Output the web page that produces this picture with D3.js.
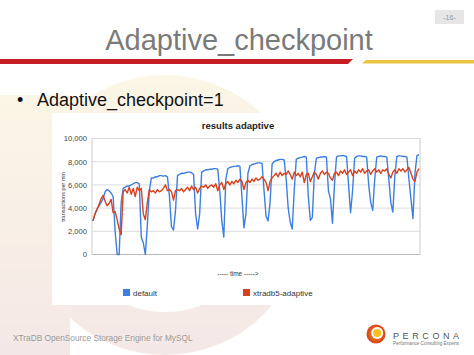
<!DOCTYPE html>
<html><head><meta charset="utf-8">
<script src="https://cdn.jsdelivr.net/npm/d3@7"></script>
<style>html,body{margin:0;padding:0;background:#fff;overflow:hidden}svg{display:block}</style>
</head><body>
<script>
// ---- data ----
const slideTitle = "Adaptive_checkpoint";
const bulletText = "Adaptive_checkpoint=1";
const chartTitle = "results adaptive";
const yAxisTitle = "transactions per min";
const xAxisTitle = "----- time ----->";
const seriesNames = ["default", "xtradb5-adaptive"];
const yTicks = [0, 2000, 4000, 6000, 8000, 10000];
const footerText = "XTraDB OpenSource Storage Engine for MySQL";
const pageLabel = "-16-";

const defaultSeries = [
2900,3500,3900,4200,4500,4800,5400,5600,5500,5300,5000,2000,0,0,4500,5700,5800,5900,5900,6000,
6100,6200,6200,6100,1500,1000,0,2500,5500,6600,6600,6700,6700,6800,6800,6750,6800,6700,5000,2400,
2100,3800,6800,6900,7000,7000,7050,7100,7100,7050,6900,3500,2200,3500,7100,7200,7300,7300,7350,7350,
7400,7400,7350,5500,2900,1500,6500,7400,7500,7550,7600,7600,7650,7600,5000,2300,3500,7000,7650,7750,
7800,7850,7900,7900,7850,5500,3300,2900,4500,7800,8000,8100,8150,8200,8200,8150,6500,4000,2800,2200,
5500,8200,8300,8350,8400,8450,8400,5000,2950,3200,7000,8300,8350,8400,8400,8450,8400,5500,4800,2700,
6000,8400,8500,8500,8550,8500,8450,6000,3600,5500,8300,8450,8500,8500,8450,8450,8400,6000,4500,3800,
6500,8400,8450,8500,8450,8450,8400,6500,4500,3650,6800,8450,8500,8500,8450,8450,8400,6500,4800,3100,
7000,8550,8600
];
const adaptiveSeries = [
2900,3500,3900,4300,4800,5100,4600,4200,4400,4750,3600,3700,3000,2200,1700,5400,5600,5300,5800,5200,
5700,5000,5800,5500,5700,3500,3000,4500,5600,5400,5500,5300,5600,5400,5500,5700,6000,5500,5600,5400,
4700,5500,5600,5500,5700,5400,5600,5800,5500,5900,5600,5800,5300,5700,5900,5800,6000,5700,5900,6000,
5800,6100,5500,6000,6200,5600,6100,6300,6000,6300,6100,6400,6200,6500,6300,5600,6200,6400,6200,6500,
6300,6600,6400,6500,6700,6500,6200,5500,6300,6600,6800,7000,6700,7100,6800,7000,6900,7200,6900,6500,
7100,6800,7000,6700,7100,6200,6900,7000,6300,6700,7100,6900,6500,7000,7200,6900,7100,7000,6600,6400,
7000,7100,6800,7200,7000,7300,6900,7100,7300,6800,7200,7000,7300,7100,7400,7000,7200,7300,6900,7200,
7400,7100,7300,7000,7300,7200,7400,6900,6600,7100,7300,7000,7400,7200,7400,7100,7300,7500,7000,6500,
6300,7100,7400
];
const seriesColors = ["#3d7fe0", "#d8401e"];

// ---- drawing ----
const W = 474, H = 355;
const svg = d3.select("body").append("svg").attr("width", W).attr("height", H);
const defs = svg.append("defs");
const wg = defs.append("linearGradient").attr("id","wm").attr("x1",0).attr("y1",0).attr("x2",0).attr("y2",1);
wg.append("stop").attr("offset","0%").attr("stop-color","#fcf6e6");
wg.append("stop").attr("offset","45%").attr("stop-color","#f8efe6");
wg.append("stop").attr("offset","100%").attr("stop-color","#f4e8e6");

// watermark (Percona P)
const cx = 165, cy = 215;
const ring = d3.arc()({innerRadius: 97, outerRadius: 140, startAngle: 0, endAngle: 2*Math.PI});
svg.append("path").attr("d", ring).attr("transform", `translate(${cx},${cy})`).attr("fill","url(#wm)");
svg.append("rect").attr("x",0).attr("y",95).attr("width",70).attr("height",H-95).attr("fill","url(#wm)");

// slide title
svg.append("text").attr("x",239).attr("y",50).attr("text-anchor","middle")
  .attr("font-family","Liberation Sans, Arial, sans-serif").attr("font-size",29).attr("fill","#7a7a7a")
  .text(slideTitle);
svg.append("polygon").attr("points","0,59 353,59 348,64 0,64").attr("fill","#c41e24");
svg.append("polygon").attr("points","366,60 474,60 474,63.5 362,63.5").attr("fill","#e8c440");
svg.append("rect").attr("x",435).attr("y",10).attr("width",29).attr("height",14).attr("fill","#e6e6e6");
svg.append("text").attr("x",449.5).attr("y",20).attr("text-anchor","middle")
  .attr("font-family","Liberation Sans, Arial, sans-serif").attr("font-size",7).attr("fill","#999").text(pageLabel);

// bullet
svg.append("text").attr("x",17).attr("y",106).attr("font-family","Liberation Sans, Arial, sans-serif")
  .attr("font-size",18).attr("fill","#111").text("\u2022");
svg.append("text").attr("x",37).attr("y",106).attr("font-family","Liberation Sans, Arial, sans-serif")
  .attr("font-size",18).attr("fill","#111").text(bulletText);

// chart background
svg.append("rect").attr("x",52).attr("y",113).attr("width",380).attr("height",192).attr("fill","#fff");

const x = d3.scaleLinear().domain([0, defaultSeries.length - 0.5]).range([93, 420]);
const y = d3.scaleLinear().domain([0, 10000]).range([254.5, 138.5]);

const g = svg.append("g");
// gridlines
g.selectAll("line.grid").data(yTicks).join("line").attr("class","grid")
  .attr("x1",92).attr("x2",420).attr("y1",d=>y(d)).attr("y2",d=>y(d))
  .attr("stroke", d => d===0 ? "#bbb" : "#dcdcdc").attr("stroke-width",1);
// frame sides
g.append("line").attr("x1",92).attr("x2",92).attr("y1",y(10000)).attr("y2",y(0)).attr("stroke","#ccc");
g.append("line").attr("x1",420).attr("x2",420).attr("y1",y(10000)).attr("y2",y(0)).attr("stroke","#ccc");

// y axis labels
const yAxis = d3.axisLeft(y).tickValues(yTicks).tickFormat(d3.format(",")).tickSize(0).tickPadding(5);
const ya = svg.append("g").attr("transform","translate(92,0)").call(yAxis);
ya.select(".domain").remove();
ya.selectAll("text").attr("font-family","Liberation Sans, Arial, sans-serif").attr("font-size",7.6).attr("fill","#444");

svg.append("text").attr("transform","translate(65,197) rotate(-90)").attr("text-anchor","middle")
  .attr("font-family","Liberation Sans, Arial, sans-serif").attr("font-size",5.5).attr("fill","#333").text(yAxisTitle);

svg.append("text").attr("x",238).attr("y",129).attr("text-anchor","middle")
  .attr("font-family","Liberation Sans, Arial, sans-serif").attr("font-size",9.5).attr("font-weight","bold")
  .attr("fill","#222").text(chartTitle);

// lines
const line = d3.line().x((d,i)=>x(i)).y(d=>y(d));
[defaultSeries, adaptiveSeries].forEach((s, k) => {
  svg.append("path").datum(s).attr("d", line).attr("fill","none")
    .attr("stroke", seriesColors[k]).attr("stroke-width", 1.4).attr("stroke-linejoin","round");
});

// x title
svg.append("text").attr("x",238).attr("y",276).attr("text-anchor","middle")
  .attr("font-family","Liberation Sans, Arial, sans-serif").attr("font-size",6.5).attr("fill","#333").text(xAxisTitle);

// legend
const legX = [123, 243];
seriesNames.forEach((n, k) => {
  svg.append("rect").attr("x",legX[k]).attr("y",289).attr("width",7).attr("height",7).attr("fill",seriesColors[k]);
  svg.append("text").attr("x",legX[k]+10).attr("y",296).attr("font-family","Liberation Sans, Arial, sans-serif")
    .attr("font-size",8).attr("fill","#333").text(n);
});

// footer
svg.append("text").attr("x",13).attr("y",341).attr("font-family","Liberation Sans, Arial, sans-serif")
  .attr("font-size",8.3).attr("fill","#9a9a9a").text(footerText);

// Percona logo
const lg = svg.append("g").attr("transform","translate(376,334)");
const og = defs.append("radialGradient").attr("id","og");
og.append("stop").attr("offset","0%").attr("stop-color","#f59a1a");
og.append("stop").attr("offset","100%").attr("stop-color","#d9401a");
lg.append("circle").attr("r",9.5).attr("fill","url(#og)");
lg.append("circle").attr("cx",1.2).attr("cy",-1).attr("r",6).attr("fill","#fff");
lg.append("circle").attr("cx",1.2).attr("cy",-1).attr("r",4).attr("fill","#f7c020");
svg.append("text").attr("x",393).attr("y",338.5).attr("font-family","Liberation Sans, Arial, sans-serif")
  .attr("font-size",9).attr("letter-spacing",3.6).attr("fill","#555").text("PERCONA");
svg.append("text").attr("x",393).attr("y",344.5).attr("font-family","Liberation Sans, Arial, sans-serif")
  .attr("font-size",4.6).attr("fill","#777").text("Performance Consulting Experts");
</script>
</body></html>
